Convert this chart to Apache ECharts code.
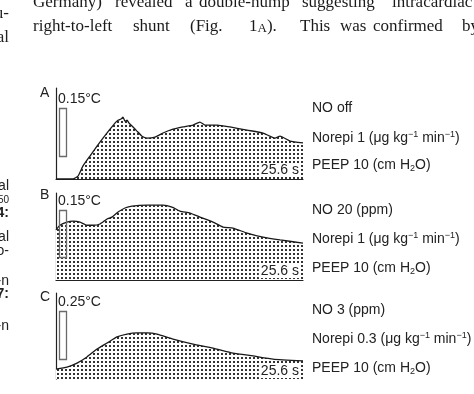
<!DOCTYPE html>
<html><head><meta charset="utf-8">
<script src="https://cdn.jsdelivr.net/npm/echarts@6/dist/echarts.min.js"></script>
<style>html,body{margin:0;padding:0;background:#fff}#c{width:474px;height:394px}</style>
</head><body><div id="c"></div>
<script>
// ---- data (time in s, temperature change in °C) ----
const timeA = [0, 1.76, 2.28, 2.80, 3.52, 4.25, 4.87, 5.60, 6.11, 6.43, 6.74, 6.94, 7.15, 7.36, 7.57, 7.88, 8.39, 8.91, 9.43, 10.26, 11.09, 12.13, 13.16, 14.20, 14.92, 15.44, 16.69, 18.03, 19.80, 21.45, 22.70, 23.22, 24.25, 25.6];
const tempA = [0, 0, 0.009, 0.041, 0.072, 0.103, 0.128, 0.156, 0.175, 0.184, 0.188, 0.194, 0.181, 0.184, 0.175, 0.166, 0.150, 0.134, 0.128, 0.131, 0.144, 0.156, 0.163, 0.169, 0.178, 0.169, 0.169, 0.163, 0.153, 0.144, 0.128, 0.134, 0.119, 0.113];
const timeB = [0, 0.41, 1.14, 1.76, 2.49, 3.21, 3.83, 4.56, 5.29, 5.80, 6.43, 7.15, 7.88, 9.43, 11.09, 12.02, 12.85, 13.89, 14.92, 16.27, 17.31, 18.34, 19.80, 21.45, 23.22, 25.6];
const tempB = [0.160, 0.175, 0.185, 0.188, 0.185, 0.175, 0.175, 0.179, 0.195, 0.201, 0.217, 0.230, 0.236, 0.239, 0.239, 0.233, 0.220, 0.214, 0.201, 0.185, 0.169, 0.166, 0.150, 0.137, 0.128, 0.118];
const timeC = [0, 1.14, 2.18, 3.21, 4.25, 5.29, 6.32, 7.36, 8.39, 9.43, 10.47, 12.13, 14.20, 16.27, 18.34, 20.42, 22.49, 25.6];
const tempC = [0.052, 0.0625, 0.083, 0.115, 0.156, 0.1875, 0.219, 0.234, 0.240, 0.240, 0.234, 0.208, 0.182, 0.161, 0.135, 0.120, 0.104, 0.094];

const panelLetters = ['A', 'B', 'C'];
const panelMaxTemp = [0.285, 0.278, 0.448];
const scaleBarSize = [0.15, 0.15, 0.25];
const scaleBarBase = [0.072, 0.073, 0.104];
const scaleBarStart = [0.3, 0.3, 0.3];
const scaleBarEnd = [1.05, 1.05, 1.05];
const scaleBarLabels = ['0.15°C', '0.15°C', '0.25°C'];
const durationLabel = '25.6 s';
const durationMax = 25.6;
const condNO = ['NO off', 'NO 20 (ppm)', 'NO 3 (ppm)'];
const condNorepi = ['1', '1', '0.3'];
const condPEEP = ['10', '10', '10'];

// ---- layout ----
const grids = [{top: 88, height: 91}, {top: 193, height: 87}, {top: 293, height: 86}];
const times = [timeA, timeB, timeC];
const temps = [tempA, tempB, tempC];

function dotPattern() {
  const c = document.createElement('canvas');
  c.width = 4; c.height = 4;
  const g = c.getContext('2d');
  g.fillStyle = '#ffffff'; g.fillRect(0, 0, 4, 4);
  g.fillStyle = '#333333'; g.fillRect(1, 1, 2, 2);
  return c;
}
const pat = dotPattern();

const SANS = '"Liberation Sans", Arial, sans-serif';
const SERIF = '"Liberation Serif", "Times New Roman", serif';
const ink = '#222';

const areaSeries = grids.map((g, i) => ({
  type: 'line', xAxisIndex: i, yAxisIndex: i, z: 2,
  data: times[i].map((t, k) => [t, temps[i][k]]),
  showSymbol: false, smooth: 0.15,
  lineStyle: {color: '#1a1a1a', width: 1.3},
  areaStyle: {color: {image: pat, repeat: 'repeat'}, opacity: 1}
}));
const barSeries = grids.map((g, i) => ({
  type: 'custom', xAxisIndex: i, yAxisIndex: i, z: 10, silent: true,
  data: [[scaleBarStart[i], scaleBarBase[i], scaleBarEnd[i], scaleBarBase[i] + scaleBarSize[i]]],
  renderItem: function (params, api) {
    const p0 = api.coord([api.value(0), api.value(3)]);
    const p1 = api.coord([api.value(2), api.value(1)]);
    return {type: 'rect', shape: {x: Math.round(p0[0]) + 0.5, y: Math.round(p0[1]) + 0.5,
      width: Math.round(p1[0] - p0[0]), height: Math.round(p1[1] - p0[1])},
      style: {fill: null, stroke: '#6a6a6a', lineWidth: 1.3}};
  }
}));

const option = {
  backgroundColor: '#fff',
  animation: false,
  grid: grids.map(g => ({left: 56, width: 247, top: g.top, height: g.height, containLabel: false})),
  xAxis: grids.map((g, i) => ({
    type: 'value', gridIndex: i, min: 0, max: durationMax,
    axisLine: {show: i < 2, onZero: false, lineStyle: {color: ink, width: 1.2}},
    axisTick: {show: false}, axisLabel: {show: false}, splitLine: {show: false}
  })),
  yAxis: grids.map((g, i) => ({
    type: 'value', gridIndex: i, min: 0, max: panelMaxTemp[i],
    axisLine: {show: true, onZero: false, lineStyle: {color: ink, width: 1.2}},
    axisTick: {show: false}, axisLabel: {show: false}, splitLine: {show: false}
  })),
  series: areaSeries.concat(barSeries)
};

const sup = {fontSize: 9, lineHeight: 9, verticalAlign: 'top', fontFamily: SANS, fill: ink};
const sub = {fontSize: 9, lineHeight: 9, verticalAlign: 'bottom', fontFamily: SANS, fill: ink};
const graphics = [];
function txt(x, y, text, extra) {
  graphics.push({type: 'text', z: 100, style: Object.assign({
    x: x, y: y, text: text, font: '14px ' + SANS, fill: ink,
    align: 'left', verticalAlign: 'middle'}, extra || {})});
}
const letterY = [93, 195, 297];
const barLabelY = [99, 201, 302];
const durY = [170, 271, 371];
const labelY = [[108, 138, 165], [210, 239, 268], [310, 339, 368]];
for (let i = 0; i < 3; i++) {
  txt(40, letterY[i], panelLetters[i]);
  txt(58, barLabelY[i], scaleBarLabels[i]);
  txt(300, durY[i], durationLabel, {align: 'right', backgroundColor: '#fff', padding: [0, 1, 0, 2]});
  txt(312, labelY[i][0], condNO[i]);
  txt(312, labelY[i][1], 'Norepi ' + condNorepi[i] + ' (μg kg{s|−1} min{s|−1})',
      {lineHeight: 16, rich: {s: sup}});
  txt(312, labelY[i][2], 'PEEP ' + condPEEP[i] + ' (cm H{b|2}O)',
      {lineHeight: 16, rich: {b: sub}});
}
// surrounding page text (article body)
const bodyFont = '17px ' + SERIF;
const line1Words = ['Germany)', 'revealed', 'a', 'double-hump', 'suggesting', 'intracardiac'];
const line1X = [33, 115, 185, 199, 302, 392];
const line2Words = ['right-to-left', 'shunt', '(Fig.', '1{sc|A}).', 'This', 'was', 'confirmed', 'by'];
const line2X = [33, 133, 190, 249, 300, 340, 373, 462];
line1Words.forEach((w, k) => txt(line1X[k], 3, w, {font: bodyFont, fill: '#1a1a1a'}));
line2Words.forEach((w, k) => txt(line2X[k], 27, w, {font: bodyFont, fill: '#1a1a1a',
  rich: {sc: {fontSize: 13, fontFamily: SERIF, fill: '#1a1a1a', verticalAlign: 'bottom', lineHeight: 15}}}));
// fragments of the neighbouring column
const fragText = ['u-', 'al', 'al', '50', '4:', 'al', 'o-', '-n', '7:', '-n'];
const fragY = [14, 38, 186, 200, 213, 237, 251, 281, 294, 326];
fragText.forEach((f, k) => {
  const serif = k < 2;
  const font = serif ? '17px ' + SERIF : (f === '50' ? '10px ' + SANS : ((f === '4:' || f === '7:') ? 'bold 14px ' + SANS : '14px ' + SANS));
  txt(9, fragY[k], f, {align: 'right', font: font});
});
option.graphic = graphics;

const chart = echarts.init(document.getElementById('c'), null, {renderer: 'canvas'});
chart.setOption(option);
</script>
</body></html>
